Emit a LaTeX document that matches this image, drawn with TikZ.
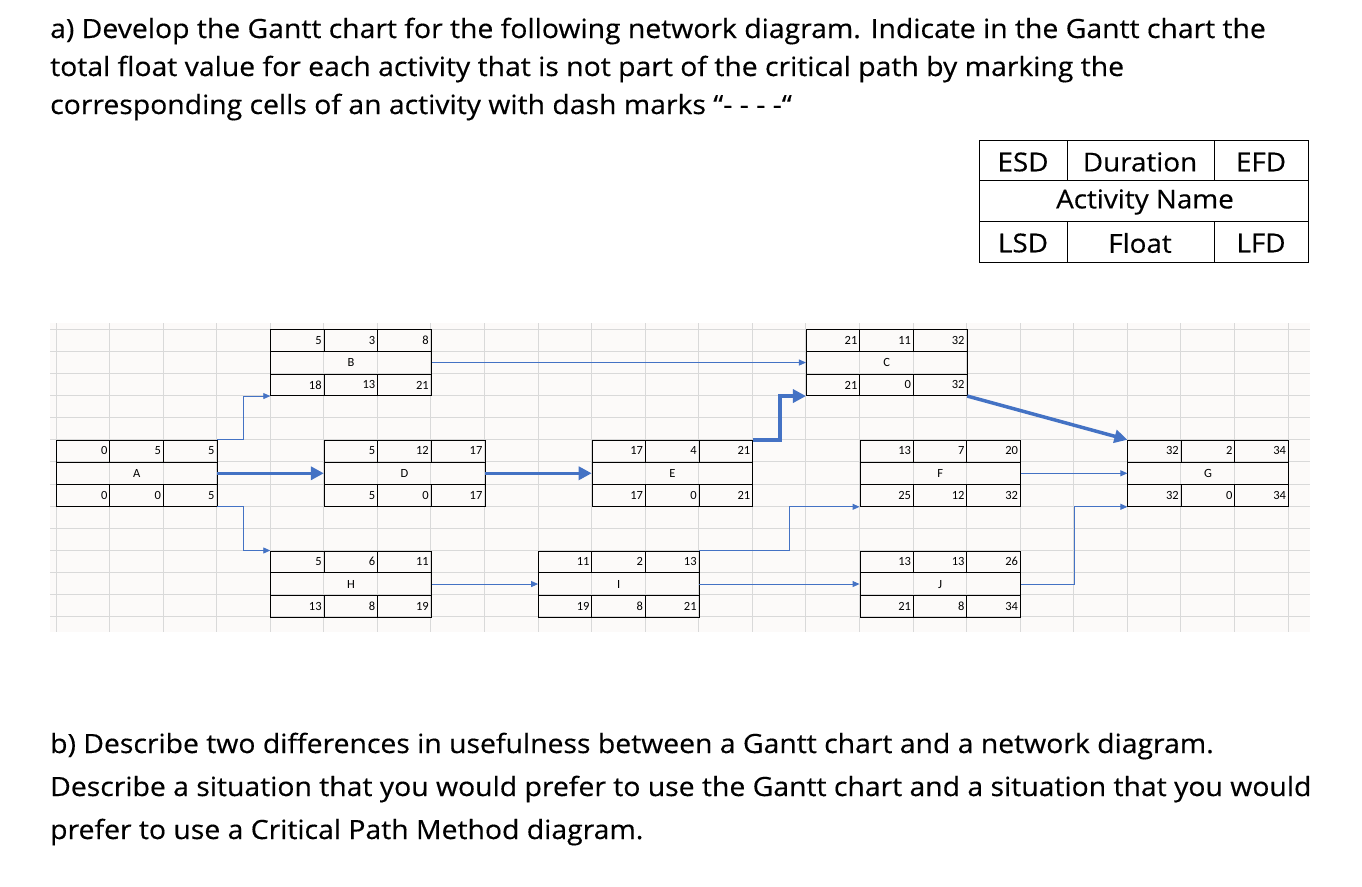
\documentclass[tikz,border=0pt]{standalone}
\usepackage{fontspec}
\setmainfont{Carlito}
\newfontfamily\qfont[FakeStretch=1.07,FakeBold=0.4]{Open Sans}
\usetikzlibrary{positioning,arrows.meta}
\definecolor{arrblue}{HTML}{4472C4}
\definecolor{gridc}{HTML}{D9D9D9}
\definecolor{sheet}{HTML}{FCFAF9}
\tikzset{
  cell/.style={font=\fontsize{12.5}{13}\selectfont, anchor=east, inner sep=2pt},
  actname/.style={font=\fontsize{12.5}{13}\selectfont},
  link/.style={draw=arrblue, line width=0.9pt, -{Triangle[length=7pt,width=6pt]}},
  crit/.style={draw=arrblue, line width=3.5pt, -{Triangle[length=13pt,width=13pt]}},
  big/.style={font=\qfont\fontsize{26.5}{30}\selectfont, anchor=base west, inner sep=0},
}
% activity box: name, column, row, top values, label, bottom values
\newcommand{\act}[6]{%
  \node[draw, semithick, minimum width=160.7pt, minimum height=66.45pt, inner sep=0,
        anchor=north west] (#1) at ({56pt+53.57pt*#2}, {-329pt-22.15pt*#3}) {};
  \draw[semithick] ([yshift=-22.15pt]#1.north west) -- ([yshift=-22.15pt]#1.north east)
                   ([yshift=22.15pt]#1.south west) -- ([yshift=22.15pt]#1.south east);
  \foreach \k in {1,2}
  { \draw[semithick] ([xshift=\k*53.57pt]#1.north west) -- ++(0,-22.15pt);
    \draw[semithick] ([xshift=\k*53.57pt]#1.south west) -- ++(0,22.15pt); }
  \node[actname] at (#1.center) {#5};
  \foreach \v [count=\k] in {#4}
  { \node[cell] at ([xshift=\k*53.57pt, yshift=-11.07pt]#1.north west) {\v}; }
  \foreach \v [count=\k] in {#6}
  { \node[cell] at ([xshift=\k*53.57pt, yshift=11.07pt]#1.south west) {\v}; }
}
\begin{document}
\begin{tikzpicture}
  \useasboundingbox[fill=white] (0,0) rectangle (1362pt,-886pt);

  % question a
  \node[big] (qa1) at (50pt,-38pt) {a) Develop the Gantt chart for the following network diagram. Indicate in the Gantt chart the};
  \node[big] (qa2) at (50pt,-76pt) {total float value for each activity that is not part of the critical path by marking the};
  \node[big] (qa3) at (50pt,-114pt) {corresponding cells of an activity with dash marks “- - - -“};

  % legend
  \draw[thick] (979pt,-140pt) rectangle (1308pt,-262pt);
  \draw[thick] (979pt,-180pt) -- (1308pt,-180pt) (979pt,-221pt) -- (1308pt,-221pt)
               (1067pt,-140pt) -- (1067pt,-180pt) (1214pt,-140pt) -- (1214pt,-180pt)
               (1067pt,-221pt) -- (1067pt,-262pt) (1214pt,-221pt) -- (1214pt,-262pt);
  \foreach \t/\x/\y in {ESD/1023/162, Duration/1140/162, EFD/1261/162,
                        Activity Name/1145/202, LSD/1023/243, Float/1140/243, LFD/1261/243}
  { \node[font=\qfont\fontsize{26}{28}\selectfont] at (\x pt,-\y pt) {\t}; }

  % grid
  \fill[sheet] (50pt,-323pt) rectangle (1310pt,-632pt);
  \foreach \i in {0,...,23}
  { \draw[gridc, line width=1pt] ({56pt+53.57pt*\i},-323pt) -- ({56pt+53.57pt*\i},-632pt); }
  \foreach \j in {0,...,13}
  { \draw[gridc, line width=1pt] (50pt,{-329pt-22.15pt*\j}) -- (1310pt,{-329pt-22.15pt*\j}); }

  % activities
  \act{A}{0}{5}{0,5,5}{A}{0,0,5}
  \act{B}{4}{0}{5,3,8}{B}{18,13,21}
  \act{D}{5}{5}{5,12,17}{D}{5,0,17}
  \act{H}{4}{10}{5,6,11}{H}{13,8,19}
  \act{E}{10}{5}{17,4,21}{E}{17,0,21}
  \act{I}{9}{10}{11,2,13}{I}{19,8,21}
  \act{C}{14}{0}{21,11,32}{C}{21,0,32}
  \act{F}{15}{5}{13,7,20}{F}{25,12,32}
  \act{J}{15}{10}{13,13,26}{J}{21,8,34}
  \act{G}{20}{5}{32,2,34}{G}{32,0,34}

  % links
  \draw[link] (A.north east) -- ++(26pt,0) |- (B.south west);
  \draw[link] (A.south east) -- ++(26pt,0) |- (H.north west);
  \draw[link] (B.east) -- (C.west);
  \draw[link] (H.east) -- (I.west);
  \draw[link] (I.east) -- (J.west);
  \draw[link] (I.north east) -- ++(90pt,0) |- (F.south west);
  \draw[link] (F.east) -- (G.west);
  \draw[link] (J.east) -- ++(54pt,0) |- (G.south west);
  \draw[crit] (A.east) -- (D.west);
  \draw[crit] (D.east) -- (E.west);
  \draw[crit] (E.north east) -- ++(27pt,0) |- (C.south west);
  \draw[crit] (C.south east) -- (G.north west);

  % question b
  \node[big] (qb1) at (50pt,-753pt) {b) Describe two differences in usefulness between a Gantt chart and a network diagram.};
  \node[big] (qb2) at (50pt,-796pt) {Describe a situation that you would prefer to use the Gantt chart and a situation that you would};
  \node[big] (qb3) at (50pt,-839pt) {prefer to use a Critical Path Method diagram.};
\end{tikzpicture}
\end{document}
